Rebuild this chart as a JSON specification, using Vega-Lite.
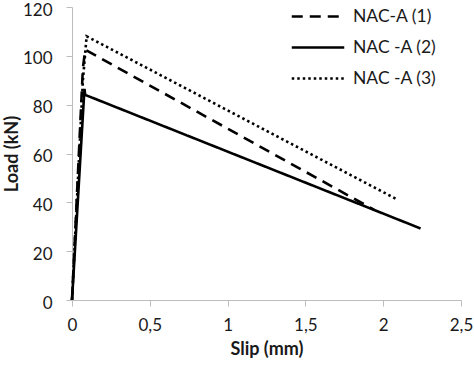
{
  "$schema": "https://vega.github.io/schema/vega-lite/v6.json",
  "width": 389,
  "height": 293,
  "autosize": "none",
  "padding": {"left": 72, "top": 7, "right": 13, "bottom": 66},
  "background": "white",
  "config": {
    "view": {"stroke": null},
    "font": "Lato",
    "axis": {"grid": false, "domainColor": "#bdbdbd", "tickColor": "#bdbdbd", "labelColor": "#1a1a1a", "titleColor": "#1a1a1a", "labelFont": "Lato", "titleFont": "Lato", "labelFontSize": 17, "titleFontSize": 18, "titleFontWeight": "bold", "labelFontWeight": "normal"}
  },
  "data": {
    "values": [
      {"series": "NAC-A (1)", "slip": 0, "load": 0},
      {"series": "NAC-A (1)", "slip": 0.07, "load": 95},
      {"series": "NAC-A (1)", "slip": 0.085, "load": 102.5},
      {"series": "NAC-A (1)", "slip": 1.94, "load": 37},
      {"series": "NAC -A (2)", "slip": 0, "load": 0},
      {"series": "NAC -A (2)", "slip": 0.08, "load": 86.5},
      {"series": "NAC -A (2)", "slip": 0.085, "load": 84},
      {"series": "NAC -A (2)", "slip": 2.24, "load": 29.3},
      {"series": "NAC -A (3)", "slip": 0, "load": 0},
      {"series": "NAC -A (3)", "slip": 0.07, "load": 90},
      {"series": "NAC -A (3)", "slip": 0.094, "load": 108},
      {"series": "NAC -A (3)", "slip": 2.08, "load": 41.5}
    ]
  },
  "mark": {"type": "line", "color": "black", "strokeWidth": 2.6, "strokeCap": "butt"},
  "encoding": {
    "x": {
      "field": "slip", "type": "quantitative",
      "scale": {"domain": [0, 2.5], "nice": false},
      "axis": {"title": "Slip (mm)", "values": [0, 0.5, 1, 1.5, 2, 2.5], "labelExpr": "replace(format(datum.value, '~r'), '.', ',')", "tickSize": 6, "labelPadding": 11, "titleY": 49, "titleBaseline": "middle", "labelFlush": false}
    },
    "y": {
      "field": "load", "type": "quantitative",
      "scale": {"domain": [0, 120], "nice": false},
      "axis": {"title": "Load (kN)", "values": [0, 20, 40, 60, 80, 100, 120], "tickSize": 6, "labelPadding": 14, "labelOffset": 3, "titleX": -60, "titleY": 146.5, "titleAngle": -90, "titleBaseline": "middle", "titleAlign": "center", "labelFlush": false}
    },
    "strokeDash": {
      "field": "series", "type": "nominal",
      "scale": {"domain": ["NAC-A (1)", "NAC -A (2)", "NAC -A (3)"], "range": [[11, 7], [1, 0], [2.5, 3]]},
      "legend": {"title": null, "orient": "none", "legendX": 229.5, "legendY": -7, "symbolType": "M-1.75,0H1.75", "symbolSize": 900, "symbolFillColor": "transparent", "symbolStrokeWidth": 2.6, "symbolStrokeColor": "black", "labelFontSize": 17.5, "labelFont": "Lato", "labelColor": "#1a1a1a", "rowPadding": 6, "labelOffset": 18.5, "padding": 0}
    },
    "order": {"field": "slip", "type": "quantitative"}
  }
}
